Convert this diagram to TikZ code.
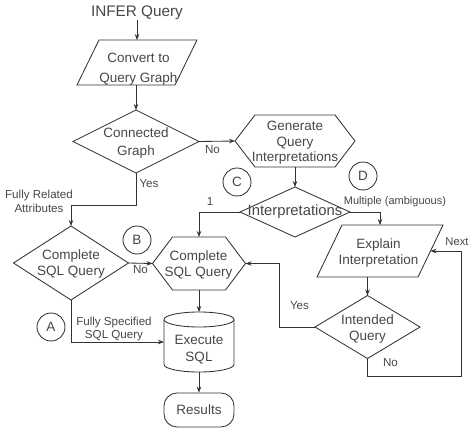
\documentclass[tikz,border=0pt]{standalone}
\usepackage{fontspec}
\setmainfont{Liberation Sans}
\usetikzlibrary{shapes.geometric,arrows.meta}
\newcommand\hexoutline[2]{\draw[ln] (#1.west) -- ([xshift=#2]#1.north west) -- ([xshift=-#2]#1.north east) -- (#1.east) -- ([xshift=-#2]#1.south east) -- ([xshift=#2]#1.south west) -- cycle;}
\newcommand\paroutline[2]{\draw[ln] (#1.south west) -- ([xshift=#2]#1.north west) -- (#1.north east) -- ([xshift=-#2]#1.south east) -- cycle;}
\newcommand\cyloutline[3]{%
  \draw[ln] ([yshift=-#3]#1.north west) -- ([yshift=#3]#1.south west) arc[start angle=180,end angle=360,x radius=#2,y radius=#3] -- ([yshift=-#3]#1.north east);
  \draw[ln] ([yshift=-#3]#1.north) ellipse[x radius=#2,y radius=#3];}
\begin{document}
\begin{tikzpicture}[x=1pt,y=-1pt,
  ln/.style={draw=black!80, line width=0.85pt},
  arr/.style={ln, -{Stealth[length=6pt,width=4.5pt]}},
  txt/.style={text=black!72, align=center, inner sep=0pt, font=\fontsize{13.5}{16}\selectfont},
  lab/.style={text=black!72, align=center, inner sep=0pt, font=\fontsize{11.6}{14}\selectfont},
  dia/.style={shape=diamond, ln, inner sep=0pt, outer sep=0pt},
  frame/.style={shape=rectangle, inner sep=0pt, outer sep=0pt},
  circ/.style={shape=circle, ln, minimum size=28pt, inner sep=0pt, text=black!72, font=\fontsize{13.5}{16}\selectfont}
]
\path[use as bounding box, fill=white] (0,0) rectangle (474,439);

% shapes
\node[txt, font=\fontsize{15.3}{18}\selectfont] (infer) at (137,13) {INFER Query};
\node[frame, minimum width=120pt, minimum height=45pt,
  label={[txt,xshift=1.5pt,yshift=-6.5pt,font=\fontsize{13.5}{20}\selectfont]center:Convert to\\Query Graph}] (conv) at (137,62.5) {};
\paroutline{conv}{22pt}
\node[dia, minimum width=126pt, minimum height=63pt,
  label={[txt,yshift=-1.5pt,font=\fontsize{13.5}{17.3}\selectfont]center:Connected\\Graph}] (conn) at (136,141.5) {};
\node[frame, minimum width=120pt, minimum height=52pt,
  label={[txt,yshift=-2pt,font=\fontsize{13.5}{15.5}\selectfont]center:Generate\\Query\\Interpretations}] (gen) at (295,141) {};
\hexoutline{gen}{20pt}
\node[dia, minimum width=110pt, minimum height=50pt,
  label={[txt,font=\fontsize{14.8}{17}\selectfont]center:Interpretations}] (interp) at (295,212) {};
\node[frame, minimum width=126pt, minimum height=52pt,
  label={[txt,xshift=-1.5pt,yshift=-2pt]center:Explain\\Interpretation}] (expl) at (380,251) {};
\paroutline{expl}{25pt}
\node[dia, minimum width=105pt, minimum height=63pt,
  label={[txt,yshift=-2pt,font=\fontsize{13.5}{16.5}\selectfont]center:Intended\\Query}] (intd) at (367.5,327) {};
\node[frame, minimum width=93pt, minimum height=53pt,
  label={[txt,xshift=-0.5pt,yshift=-1.5pt]center:Complete\\SQL Query}] (sqlh) at (199,263.5) {};
\hexoutline{sqlh}{20pt}
\node[dia, minimum width=115pt, minimum height=74pt,
  label={[txt,yshift=-1pt]center:Complete\\SQL Query}] (sqld) at (71,263) {};
\node[frame, minimum width=70pt, minimum height=60pt,
  label={[txt,yshift=-7.5pt,font=\fontsize{13.5}{16.5}\selectfont]center:Execute\\SQL}] (exec) at (199,342) {};
\cyloutline{exec}{35pt}{7.5pt}
\node[ln, txt, rounded corners=13pt, minimum width=70pt, minimum height=34pt] (res) at (199,410) {Results};

% circles
\node[circ] (cA) at (51,327) {A};
\node[circ] (cB) at (137,240) {B};
\node[circ] (cC) at (237,182) {C};
\node[circ] (cD) at (363,176) {D};

% labels
\node[lab] (lyes1) at (149,183.5) {Yes};
\node[lab] (lno1) at (212.5,149.5) {No};
\node[lab] (lfra) at (39,201.5) {Fully Related\\Attributes};
\node[lab] (lone) at (210,202) {1};
\node[lab, font=\fontsize{11}{13}\selectfont] (lmul) at (395,202) {Multiple (ambiguous)};
\node[lab, font=\fontsize{11.2}{13}\selectfont] (lnext) at (457,242) {Next};
\node[lab] (lyes2) at (299.5,305.5) {Yes};
\node[lab] (lno2) at (390.5,363) {No};
\node[lab] (lno3) at (140.5,270) {No};
\node[lab, font=\fontsize{11.6}{13.5}\selectfont] (lfs) at (114,329) {Fully Specified\\SQL Query};

% helper coordinates
\coordinate (fr) at (136,205);
\coordinate (nr) at (461,376);
\coordinate (yc) at (279,263.5);

% connectors
\draw[arr] (infer.south) -- (conv.north);
\draw[arr] (conn.north |- conv.south) -- (conn.north);
\draw[arr] (conn.east) -- (gen.west);
\draw[arr] (gen.south) -- (interp.north);
\draw[arr] (interp.east) -| (expl.north);
\draw[arr] (interp.west) -| (sqlh.north);
\draw[arr] (intd.north |- expl.south) -- (intd.north);
\draw[arr] (intd.south) |- (nr) |- ([xshift=-12.5pt]expl.east);
\draw[arr] (intd.west) -| (yc) -- (sqlh.east);
\draw[arr] (conn.south) -- (fr) -| (sqld.north);
\draw[arr] (sqld.east) -- (sqlh.west);
\draw[arr] (sqld.south) |- (exec.west);
\draw[arr] (sqlh.south) -- (exec.north);
\draw[arr] (exec.south) -- (res.north);
\end{tikzpicture}
\end{document}
